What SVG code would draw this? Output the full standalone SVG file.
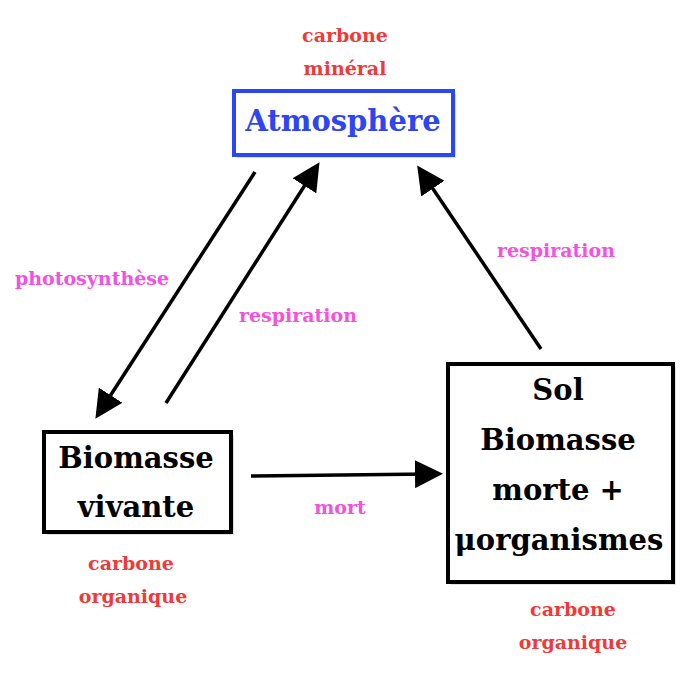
<svg xmlns="http://www.w3.org/2000/svg" width="694" height="676" viewBox="0 0 694 676">
<style>
text { font-family: "DejaVu Serif", "Liberation Serif", serif; font-weight: bold; text-anchor: middle; }
.node { font-size: 29px; fill: #000; }
.atm { font-size: 29px; fill: #2E46F2; }
.red { font-size: 19px; fill: #F03A3A; }
.pink { font-size: 19px; fill: #F452DE; }
.box { fill: #fff; stroke: #000; stroke-width: 4; }
.shadow { fill: #e2e2e2; }
.conn line { stroke: #000; stroke-width: 3.5; }
</style>
<defs>
<marker id="ah" markerWidth="8" markerHeight="8" refX="3" refY="3" orient="auto" markerUnits="strokeWidth" viewBox="0 0 6 6">
<path d="M0,0 L6,3 L0,6 z" fill="#000"/>
</marker>
</defs>
<rect width="694" height="676" fill="#fff"/>
<g id="atmosphere">
<rect x="237" y="94" width="219" height="64" class="shadow"/>
<rect x="234" y="91" width="219" height="64" fill="#fff" stroke="#2E46F2" stroke-width="4"/>
<text x="343" y="131" class="atm">Atmosphère</text>
</g>
<g id="biomasse-vivante">
<rect x="47" y="435" width="187" height="100" class="shadow"/>
<rect x="44" y="432" width="187" height="100" class="box"/>
<text x="136" y="468" class="node">Biomasse</text>
<text x="136" y="517" class="node">vivante</text>
</g>
<g id="sol">
<rect x="451" y="367" width="225" height="218" class="shadow"/>
<rect x="448" y="364" width="225" height="218" class="box"/>
<text x="558" y="400" class="node">Sol</text>
<text x="558" y="450" class="node">Biomasse</text>
<text x="558" y="500" class="node">morte +</text>
<text x="559" y="550" class="node">μorganismes</text>
</g>
<g id="labels">
<text x="345" y="42" class="red">carbone</text>
<text x="345" y="75" class="red">minéral</text>
<text x="131" y="570" class="red">carbone</text>
<text x="133" y="603" class="red">organique</text>
<text x="573" y="616" class="red">carbone</text>
<text x="573" y="649" class="red">organique</text>
<text x="92" y="285" class="pink">photosynthèse</text>
<text x="298" y="322" class="pink">respiration</text>
<text x="556" y="257" class="pink">respiration</text>
<text x="340" y="514" class="pink">mort</text>
</g>
<g class="conn" id="connectors">
<line x1="255" y1="172" x2="103" y2="407" marker-end="url(#ah)"/>
<line x1="166" y1="403" x2="312" y2="174" marker-end="url(#ah)"/>
<line x1="541" y1="349" x2="425" y2="177" marker-end="url(#ah)"/>
<line x1="251" y1="476" x2="429" y2="474" marker-end="url(#ah)"/>
</g>
</svg>
